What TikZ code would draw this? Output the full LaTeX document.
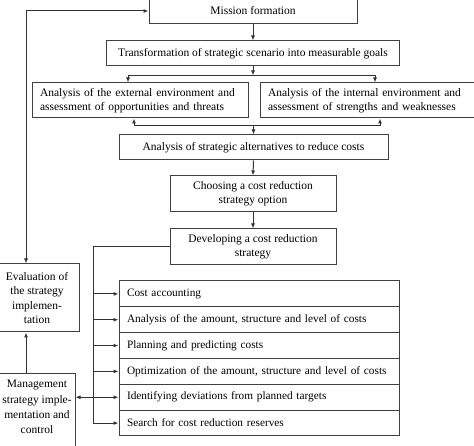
\documentclass[tikz,border=0pt]{standalone}
\usepackage{fontspec}
\setmainfont{Liberation Serif}
\usetikzlibrary{arrows.meta}
\tikzset{
  box/.style={draw=black!75, line width=1pt, inner sep=0pt, font=\fontsize{11.5}{14.5}\selectfont},
  lbox/.style={box, align=left, inner xsep=8pt, text width=#1},
  cbox/.style={box, align=center},
  conn/.style={draw=black!80, line width=1pt, -{Latex[length=5pt,width=4pt]}},
  plain/.style={draw=black!80, line width=1pt},
  dconn/.style={conn, {Latex[length=5pt,width=4pt]}-{Latex[length=5pt,width=4pt]}},
}
\begin{document}
\begin{tikzpicture}[x=1pt,y=-1pt]
\clip (0,0) rectangle (474,446);
\fill[white] (0,0) rectangle (474,446);
% central column
\node[cbox, minimum width=208pt, minimum height=26pt] (mission) at (253,11) {Mission formation};
\node[cbox, minimum width=293pt, minimum height=25pt] (trans) at (253,53.5) {Transformation of strategic scenario into measurable goals};
\node[lbox=200pt, minimum height=35pt] (ext) at (140,100.5) {Analysis of the external environment and\\assessment of opportunities and threats};
\node[lbox=206pt, minimum height=35pt] (int) at (371,100.5) {Analysis of the internal environment and\\assessment of strengths and weaknesses};
\node[cbox, minimum width=269pt, minimum height=25pt] (alt) at (253.5,147.5) {Analysis of strategic alternatives to reduce costs};
\node[cbox, minimum width=166pt, minimum height=36pt] (choose) at (253,194) {Choosing a cost reduction\\strategy option};
\node[cbox, minimum width=166pt, minimum height=36pt] (dev) at (253,247) {Developing a cost reduction\\strategy};
% left column
\node[cbox, minimum width=84pt, minimum height=68pt] (eval) at (37,298) {Evaluation of\\the strategy\\implemen-\\tation};
\node[box, minimum width=80pt, minimum height=95pt, anchor=north] (manage) at (35,373) {};
\node[align=center, inner sep=0pt, font=\fontsize{11.5}{15.2}\selectfont] (managetext) at (37,407) {Management\\strategy imple-\\mentation and\\control};
% list
\foreach \i/\t in {1/Cost accounting,
  2/{Analysis of the amount, structure and level of costs},
  3/Planning and predicting costs,
  4/{Optimization of the amount, structure and level of costs},
  5/Identifying deviations from planned targets,
  6/Search for cost reduction reserves}{
  \node[lbox=264pt, minimum height=25.83pt, font=\fontsize{11.3}{14.5}\selectfont] (r\i) at (259,{281+(\i-0.5)*25.83}) {\mbox{\t}};
}
% connectors
\draw[dconn] (mission.west) -| ([xshift=-11pt]eval.north);
\draw[conn] ([xshift=-9pt]manage.north) -- ([xshift=-11pt]eval.south);
\draw[conn] (mission.south) -- (trans.north);
\draw[conn] (trans.south) -- ++(0,9) coordinate (s1);
\draw[conn] (s1) -| ([xshift=-12pt]ext.north);
\draw[conn] (s1) -| ([xshift=4pt]int.north);
\coordinate (s2) at (alt.north |- 0,126);
\draw[conn] (s2) -| ([xshift=-6pt]ext.south);
\draw[conn] (s2) -| ([xshift=9pt]int.south);
\draw[conn] (s2) -- (alt.north);
\draw[conn] (alt.south) -- (choose.north);
\draw[conn] (choose.south) -- (dev.north);
\draw[plain] (dev.west) -- (93,247) coordinate (b) -- (b |- r6.west);
\foreach \i in {1,2,3,4,6}{
  \draw[conn] (b |- r\i.west) -- (r\i.west);
}
\draw[dconn] (manage.east |- r5.west) -- (r5.west);
\end{tikzpicture}
\end{document}
